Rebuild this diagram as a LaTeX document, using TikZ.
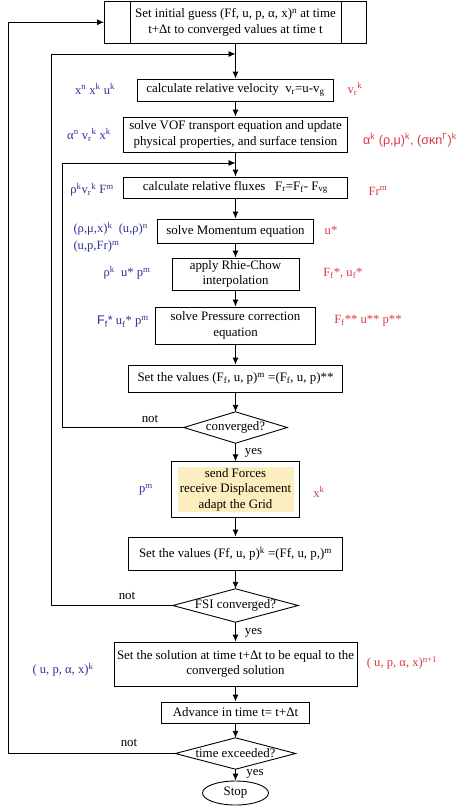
\documentclass[tikz,border=0pt]{standalone}
\usepackage{fontspec}
\setmainfont{Liberation Serif}
\newfontfamily\lblsans{Liberation Sans}
\usetikzlibrary{shapes.geometric,arrows.meta,fit}
\definecolor{inBlue}{RGB}{45,50,150}
\definecolor{outRed}{RGB}{220,55,65}
\definecolor{gridYellow}{RGB}{252,238,190}

\begin{document}
\begin{tikzpicture}[x=1pt, y=-1pt,
        every node/.style={font=\fontsize{12.9}{15.5}\selectfont, align=center},
        box/.style={rectangle, draw, line width=0.9pt, inner sep=0pt},
        test/.style={rectangle, inner sep=0pt},
        arr/.style={-{Latex[length=7pt,width=6pt]}, line width=0.9pt},
        inlbl/.style={text=inBlue, font=\fontsize{12.6}{17}\selectfont},
        outlbl/.style={text=outRed, font=\fontsize{12.6}{17}\selectfont}
      ]
      \useasboundingbox (0,0) rectangle (474,806);
      \node[box, minimum width=262pt, minimum height=41.5pt] (start) at (235.5,22.25)
        {Set initial guess (Ff, u, p, α, x)\textsuperscript{n} at time\\t+Δt to converged values at time t};
      \draw[line width=0.9pt] ([xshift=26pt]start.north west) -- ([xshift=26pt]start.south west)
        ([xshift=-26pt]start.north east) -- ([xshift=-26pt]start.south east);
      \node[box, minimum width=196pt, minimum height=22pt] (b1) at (235.5,90)
        {calculate relative velocity~ v\textsubscript{r}=u-v\textsubscript{g}};
      \node[box, minimum width=224pt, minimum height=35pt] (b2) at (235.5,134.5)
        {solve VOF transport equation and update\\physical properties, and surface tension};
      \node[box, minimum width=224pt, minimum height=21pt] (b3) at (235.5,187.5)
        {calculate relative fluxes~~ F\textsubscript{r}=F\textsubscript{f}- F\textsubscript{vg}};
      \node[box, minimum width=156pt, minimum height=24pt] (b4) at (235.5,231)
        {solve Momentum equation};
      \node[box, minimum width=127pt, minimum height=32pt] (b5) at (235.5,274)
        {apply Rhie-Chow\\interpolation};
      \node[box, minimum width=160pt, minimum height=37pt] (b6) at (235.5,325.5)
        {solve Pressure correction\\equation};
      \node[box, minimum width=214pt, minimum height=27pt] (b7) at (235.5,378.5)
        {Set the values (F\textsubscript{f}, u, p)\textsuperscript{m} =(F\textsubscript{f}, u, p)**};
      \node[test, minimum width=103pt, minimum height=31pt] (d1) at (235.5,427.5) {converged?};
      \node[fill=gridYellow, minimum width=116pt, minimum height=45pt, inner sep=0pt] (grid) at (235.5,489.5)
        {send Forces\\receive Displacement\\adapt the Grid};
      \node[box, fit=(grid), inner xsep=6pt, inner ysep=5pt] (fsi) {};
      \node[box, minimum width=214pt, minimum height=33pt] (b9) at (235.5,553.5)
        {Set the values (Ff, u, p)\textsuperscript{k} =(Ff, u, p,)\textsuperscript{m}};
      \node[test, minimum width=125pt, minimum height=33pt] (d2) at (235.5,605.5) {FSI converged?};
      \node[box, minimum width=243pt, minimum height=44pt] (b10) at (235.5,664)
        {Set the solution at time t+Δt to be equal to the\\converged solution};
      \node[box, minimum width=148pt, minimum height=21pt] (b11) at (235.5,712.5)
        {Advance in time t= t+Δt};
      \node[test, minimum width=120pt, minimum height=31pt] (d3) at (235.5,753.5) {time exceeded?};
      \node[ellipse, draw, line width=0.9pt, minimum width=66pt, minimum height=24pt, inner sep=0pt] (stop) at (235.5,793) {Stop};

      \foreach \d in {d1, d2, d3}
        \draw[line width=0.9pt] (\d.north) -- (\d.east) -- (\d.south) -- (\d.west) -- cycle;
      \foreach \a/\b in {start/b1, b1/b2, b2/b3, b3/b4, b4/b5, b5/b6, b6/b7, b7/d1,
          d1/fsi, fsi/b9, b9/d2, d2/b10, b10/b11, b11/d3, d3/stop}
        \draw[arr] (\a) -- (\b);

      \coordinate (outer) at (8,753.5);
      \coordinate (mid) at (51,605.5);
      \coordinate (inner) at (62,427.5);
      \coordinate (j1) at (235.5,54);
      \coordinate (j2) at (235.5,163);
      \draw[arr] (d3.west) -- (outer) |- (start.west);
      \draw[arr] (d2.west) -- (mid) |- (j1);
      \draw[arr] (d1.west) -- (inner) |- (j2);

      \node (not1) at (150,419) {not};
      \node (not2) at (127,596) {not};
      \node (not3) at (129,743) {not};
      \node (yes1) at (253.5,453) {yes};
      \node (yes2) at (253.5,633) {yes};
      \node (yes3) at (255,774) {yes};

      \node[inlbl] (in1) at (95,89) {x\textsuperscript{n} x\textsuperscript{k} u\textsuperscript{k}};
      \node[inlbl] (in2) at (89,135) {α\textsuperscript{n} v\textsubscript{r}\textsuperscript{k} x\textsuperscript{k}};
      \node[inlbl] (in3) at (92,190) {ρ\textsuperscript{k}v\textsubscript{r}\textsuperscript{k} F\textsuperscript{m}};
      \node[inlbl, anchor=west, align=left] (in4) at (70,237.5)
        {(ρ,μ,x)\textsuperscript{k}~ (u,ρ)\textsuperscript{n}\\(u,p,Fr)\textsuperscript{m}};
      \node[inlbl] (in5) at (127,273) {ρ\textsuperscript{k}~ u* p\textsuperscript{m}};
      \node[inlbl] (in6) at (123,322) {{\lblsans F\textsubscript{f}*} u\textsubscript{f}* p\textsuperscript{m}};
      \node[inlbl] (in7) at (146,490) {p\textsuperscript{m}};
      \node[inlbl] (in8) at (63,670) {( u, p, α, x)\textsuperscript{k}};

      \node[outlbl] (out1) at (355,89) {v\textsubscript{r}\textsuperscript{k}};
      \node[outlbl] (out2) at (410,140)
        {\lblsans α\textsuperscript{k} (ρ,μ)\textsuperscript{k}, (σκn\textsuperscript{Γ})\textsuperscript{k}};
      \node[outlbl] (out3) at (378,191) {Fr\textsuperscript{m}};
      \node[outlbl] (out4) at (331,230) {u*};
      \node[outlbl] (out5) at (343,273) {F\textsubscript{f}*, u\textsubscript{f}*};
      \node[outlbl] (out6) at (368,321) {F\textsubscript{f}** u** p**};
      \node[outlbl] (out7) at (319,492) {x\textsuperscript{k}};
      \node[outlbl] (out8) at (402,663) {( u, p, α, x)\textsuperscript{n+1}};
    \end{tikzpicture}
\end{document}
